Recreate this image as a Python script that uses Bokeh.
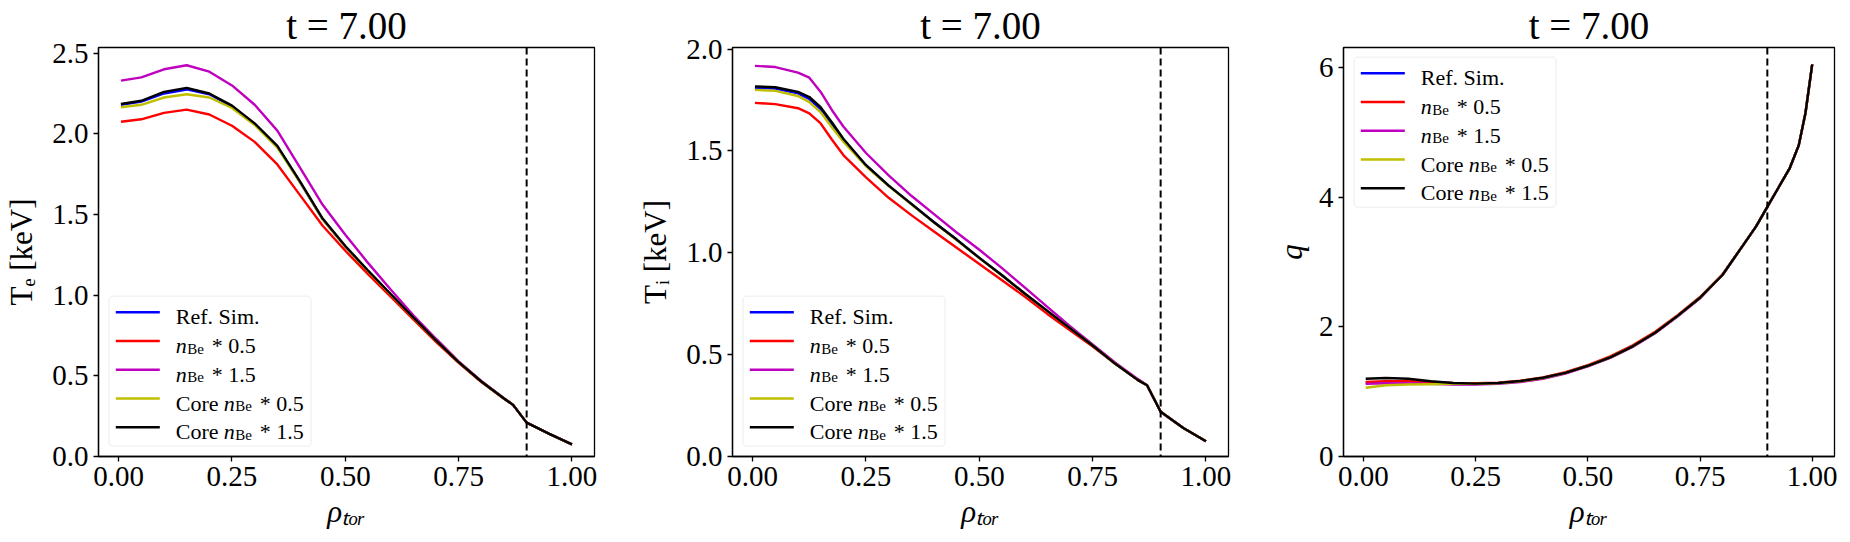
import numpy as np
from bokeh.plotting import figure
from bokeh.layouts import row
from bokeh.models import Span, Label, BoxAnnotation, FixedTicker, PrintfTickFormatter, Range1d, Title
from bokeh.embed import file_html
from bokeh.resources import INLINE

# ---------------- data ----------------
title_str = "t = 7.00"
separatrix = 0.9
x_label = "\u03c1\u209c\u2092\u1d63"          # rho_tor
y_labels = ["T\u2091 [keV]", "T\u1d62 [keV]", "q"]

series_names = ["Ref. Sim.", "nBe * 0.5", "nBe * 1.5", "Core nBe * 0.5", "Core nBe * 1.5"]
series_colors = ["#0000ff", "#ff0000", "#bf00bf", "#bfbf00", "#000000"]

rho_te = [0.005, 0.05, 0.1, 0.15, 0.2, 0.25, 0.3, 0.35, 0.4, 0.45, 0.5, 0.55, 0.6,
          0.65, 0.7, 0.75, 0.8, 0.85, 0.87, 0.9, 0.95, 1.0]
te_ref = [2.18, 2.20, 2.25, 2.275, 2.245, 2.17, 2.06, 1.92, 1.70, 1.47, 1.30, 1.15, 1.005,
          0.86, 0.72, 0.585, 0.465, 0.36, 0.32, 0.21, 0.14, 0.075]
te_nbe05 = [2.075, 2.09, 2.13, 2.15, 2.12, 2.05, 1.95, 1.81, 1.62, 1.43, 1.275, 1.13, 0.99,
            0.85, 0.71, 0.58, 0.462, 0.358, 0.32, 0.21, 0.14, 0.075]
te_nbe15 = [2.33, 2.35, 2.40, 2.425, 2.385, 2.30, 2.18, 2.02, 1.79, 1.56, 1.375, 1.20, 1.035,
            0.875, 0.73, 0.59, 0.468, 0.362, 0.32, 0.21, 0.14, 0.075]
te_core05 = [2.165, 2.18, 2.225, 2.245, 2.225, 2.16, 2.055, 1.915, 1.70, 1.47, 1.30, 1.15, 1.005,
             0.86, 0.72, 0.585, 0.465, 0.36, 0.32, 0.21, 0.14, 0.075]
te_core15 = [2.185, 2.205, 2.26, 2.285, 2.25, 2.175, 2.065, 1.925, 1.705, 1.475, 1.305, 1.153, 1.007,
             0.862, 0.72, 0.585, 0.465, 0.36, 0.32, 0.21, 0.14, 0.075]

rho_ti = [0.005, 0.05, 0.1, 0.125, 0.15, 0.175, 0.2, 0.25, 0.3, 0.35, 0.4, 0.45, 0.5, 0.55,
          0.6, 0.65, 0.7, 0.75, 0.8, 0.85, 0.87, 0.9, 0.95, 1.0]
ti_ref = [1.81, 1.806, 1.783, 1.755, 1.705, 1.63, 1.555, 1.43, 1.33, 1.24, 1.15, 1.065, 0.975, 0.89,
          0.80, 0.715, 0.63, 0.545, 0.455, 0.375, 0.35, 0.22, 0.14, 0.075]
ti_nbe05 = [1.736, 1.73, 1.71, 1.685, 1.635, 1.555, 1.48, 1.37, 1.27, 1.185, 1.105, 1.025, 0.945, 0.865,
            0.785, 0.70, 0.62, 0.54, 0.455, 0.375, 0.35, 0.22, 0.14, 0.075]
ti_nbe15 = [1.918, 1.912, 1.885, 1.86, 1.79, 1.70, 1.62, 1.49, 1.38, 1.28, 1.19, 1.10, 1.015, 0.925,
            0.83, 0.735, 0.64, 0.55, 0.46, 0.38, 0.35, 0.22, 0.14, 0.075]
ti_core05 = [1.80, 1.795, 1.77, 1.74, 1.69, 1.615, 1.545, 1.425, 1.328, 1.238, 1.148, 1.063, 0.974, 0.889,
             0.80, 0.715, 0.63, 0.545, 0.455, 0.375, 0.35, 0.22, 0.14, 0.075]
ti_core15 = [1.817, 1.813, 1.79, 1.765, 1.715, 1.64, 1.56, 1.43, 1.33, 1.24, 1.15, 1.065, 0.975, 0.89,
             0.80, 0.715, 0.63, 0.545, 0.455, 0.375, 0.35, 0.22, 0.14, 0.075]

rho_q = [0.005, 0.05, 0.1, 0.15, 0.2, 0.25, 0.3, 0.35, 0.4, 0.45, 0.5, 0.55, 0.6, 0.65, 0.7,
         0.75, 0.8, 0.85, 0.875, 0.9, 0.925, 0.95, 0.97, 0.985, 1.0]
q_ref = [1.14, 1.15, 1.15, 1.14, 1.125, 1.12, 1.13, 1.16, 1.21, 1.29, 1.40, 1.53, 1.70, 1.91, 2.17,
         2.45, 2.80, 3.30, 3.55, 3.85, 4.15, 4.45, 4.80, 5.30, 6.05]
q_nbe05 = [1.15, 1.16, 1.16, 1.15, 1.135, 1.13, 1.14, 1.17, 1.22, 1.30, 1.41, 1.545, 1.715, 1.925, 2.18,
           2.46, 2.81, 3.30, 3.55, 3.85, 4.15, 4.45, 4.80, 5.30, 6.05]
q_nbe15 = [1.12, 1.13, 1.13, 1.12, 1.11, 1.11, 1.12, 1.15, 1.20, 1.28, 1.39, 1.52, 1.69, 1.90, 2.16,
           2.44, 2.80, 3.30, 3.55, 3.85, 4.15, 4.45, 4.80, 5.30, 6.05]
q_core05 = [1.06, 1.10, 1.11, 1.115, 1.12, 1.12, 1.13, 1.16, 1.21, 1.29, 1.40, 1.53, 1.70, 1.91, 2.17,
            2.45, 2.80, 3.30, 3.55, 3.85, 4.15, 4.45, 4.80, 5.30, 6.05]
q_core15 = [1.20, 1.21, 1.20, 1.16, 1.135, 1.125, 1.135, 1.165, 1.215, 1.29, 1.40, 1.53, 1.70, 1.91, 2.17,
            2.45, 2.80, 3.30, 3.55, 3.85, 4.15, 4.45, 4.80, 5.30, 6.05]

x_ticks = [0.0, 0.25, 0.5, 0.75, 1.0]
te_ticks = [0.0, 0.5, 1.0, 1.5, 2.0, 2.5]
ti_ticks = [0.0, 0.5, 1.0, 1.5, 2.0]
q_ticks = [0, 2, 4, 6]

# ---------------- styling ----------------
SERIF = "Liberation Serif"
FRAME_H = 409
TOP = 47
BOTTOM = 86


def txt(p, x, y, text, size, italic=False, align="left"):
    p.add_layout(Label(x=x, y=y, x_units="screen", y_units="screen", text=text,
                       text_font=SERIF, text_font_size=f"{size}px",
                       text_font_style="italic" if italic else "normal",
                       text_color="black", text_align=align,
                       text_baseline="alphabetic", level="overlay"))


def make_panel(width, left, right, ymax, yticks, yfmt, rho, ys, ylab, ylab_italic, ylab_standoff):
    p = figure(width=width, height=542, output_backend="svg", toolbar_location=None,
               x_range=Range1d(-0.0445, 1.0497), y_range=Range1d(0, ymax),
               min_border_left=left, min_border_right=right,
               min_border_top=TOP, min_border_bottom=BOTTOM)
    p.title = Title(text=title_str, align="center", text_font=SERIF, text_font_size="39px",
                    text_font_style="normal", text_color="black", standoff=2)
    p.background_fill_color = "white"
    p.border_fill_color = "white"
    p.grid.visible = False
    p.outline_line_color = "black"
    p.outline_line_width = 1.3
    p.outline_line_alpha = 1.0
    for ax in (p.xaxis[0], p.yaxis[0]):
        ax.axis_line_color = "black"
        ax.axis_line_width = 1.3
        ax.major_tick_line_color = "black"
        ax.major_tick_line_width = 1.3
        ax.major_tick_out = 5
        ax.major_tick_in = 0
        ax.minor_tick_line_color = None
        ax.major_label_text_font = SERIF
        ax.major_label_text_font_size = "29px"
        ax.major_label_text_color = "black"
        ax.major_label_standoff = 5
        ax.axis_label_text_font = SERIF
        ax.axis_label_text_font_size = "31px"
        ax.axis_label_text_color = "black"
    p.xaxis[0].ticker = FixedTicker(ticks=x_ticks)
    p.xaxis[0].formatter = PrintfTickFormatter(format="%.2f")
    p.xaxis[0].axis_label = x_label
    p.xaxis[0].axis_label_text_font_style = "italic"
    p.xaxis[0].axis_label_standoff = 5
    p.yaxis[0].ticker = FixedTicker(ticks=yticks)
    p.yaxis[0].formatter = PrintfTickFormatter(format=yfmt)
    p.yaxis[0].axis_label = ylab
    p.yaxis[0].axis_label_text_font_style = "italic" if ylab_italic else "normal"
    p.yaxis[0].axis_label_standoff = ylab_standoff

    for name, col, yv in zip(series_names, series_colors, ys):
        p.line(rho, yv, line_color=col, line_width=2.4)

    p.add_layout(Span(location=separatrix, dimension="height", line_color="black",
                      line_width=2, line_dash="7 4"))
    return p


def add_legend(p, top):
    left = 10.6
    p.add_layout(BoxAnnotation(left=left, right=left + 202, top=top, bottom=top - 150,
                               left_units="screen", right_units="screen",
                               top_units="screen", bottom_units="screen",
                               fill_color="white", fill_alpha=0.8,
                               line_color="#cccccc", line_width=1.3, border_radius=4,
                               level="overlay"))
    for i, col in enumerate(series_colors):
        yc = top - 16 - 28.75 * i
        p.add_layout(BoxAnnotation(left=left + 6.7, right=left + 50.7, top=yc + 1.2, bottom=yc - 1.2,
                                   left_units="screen", right_units="screen",
                                   top_units="screen", bottom_units="screen",
                                   fill_color=col, fill_alpha=1.0, line_color=None,
                                   level="overlay"))
        bl = yc - 4.7
        tx = left + 66.7
        fs = 22
        if i == 0:
            txt(p, tx, bl, "Ref. Sim.", fs)
        else:
            off = 0 if i < 3 else 48
            if i >= 3:
                txt(p, tx, bl, "Core", fs)
            txt(p, tx + off, bl, "n", fs, italic=True)
            txt(p, tx + off + 11.5, bl - 3, "Be", 15)
            txt(p, tx + off + 36, bl, "* 0.5" if i in (1, 3) else "* 1.5", fs)


p1 = make_panel(620, 98, 26, 2.535, te_ticks, "%.1f", rho_te,
                [te_ref, te_nbe05, te_nbe15, te_core05, te_core15], y_labels[0], False, 10)
add_legend(p1, 160.3)

p2 = make_panel(650, 112, 42, 2.008, ti_ticks, "%.1f", rho_ti,
                [ti_ref, ti_nbe05, ti_nbe15, ti_core05, ti_core15], y_labels[1], False, 10)
add_legend(p2, 160.3)

p3 = make_panel(580, 68, 16, 6.31, q_ticks, "%d", rho_q,
                [q_ref, q_nbe05, q_nbe15, q_core05, q_core15], y_labels[2], True, 7)
add_legend(p3, 399.3)

layout = row(p1, p2, p3)
open("out.html", "w").write(file_html(layout, INLINE))
